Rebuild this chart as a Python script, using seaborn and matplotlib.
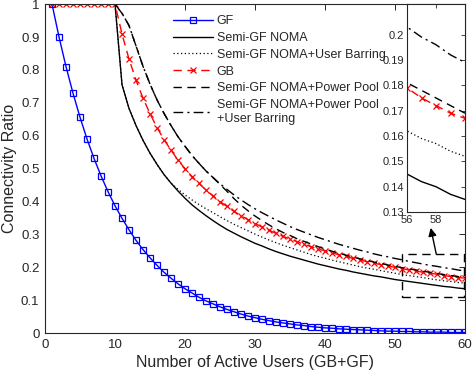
import numpy as np
import pandas as pd
import matplotlib
matplotlib.use("Agg")
import matplotlib.pyplot as plt
import matplotlib.patches as patches
import seaborn as sns

sns.set_style("white")
plt.rcParams['font.family'] = ['Liberation Sans', 'DejaVu Sans']

# number of active users
users = list(range(1, 61))

gf = [1.000, 0.900, 0.810, 0.729, 0.656, 0.590, 0.531, 0.478, 0.430, 0.387,
      0.349, 0.314, 0.282, 0.254, 0.229, 0.206, 0.185, 0.167, 0.150, 0.135,
      0.122, 0.109, 0.098, 0.089, 0.080, 0.072, 0.065, 0.058, 0.052, 0.047,
      0.042, 0.038, 0.034, 0.031, 0.028, 0.025, 0.023, 0.020, 0.018, 0.016,
      0.015, 0.013, 0.012, 0.011, 0.010, 0.009, 0.008, 0.007, 0.006, 0.006,
      0.005, 0.005, 0.004, 0.004, 0.003, 0.003, 0.003, 0.002, 0.002, 0.002]

semi_gf = [1, 1, 1, 1, 1, 1, 1, 1, 1, 1,
           0.755, 0.683, 0.631, 0.586, 0.547, 0.513, 0.482, 0.456, 0.432, 0.410,
           0.390, 0.373, 0.357, 0.342, 0.328, 0.315, 0.304, 0.293, 0.283, 0.273,
           0.265, 0.256, 0.248, 0.241, 0.234, 0.228, 0.222, 0.216, 0.210, 0.205,
           0.200, 0.195, 0.191, 0.186, 0.182, 0.178, 0.174, 0.171, 0.167, 0.163,
           0.160, 0.157, 0.154, 0.151, 0.148, 0.145, 0.142, 0.140, 0.137, 0.135]

semi_gf_ub = [1, 1, 1, 1, 1, 1, 1, 1, 1, 1,
              0.755, 0.683, 0.631, 0.586, 0.547, 0.513, 0.482, 0.456, 0.437, 0.420,
              0.405, 0.391, 0.378, 0.366, 0.354, 0.342, 0.331, 0.321, 0.311, 0.301,
              0.292, 0.283, 0.275, 0.267, 0.260, 0.253, 0.246, 0.239, 0.233, 0.228,
              0.222, 0.217, 0.212, 0.207, 0.202, 0.198, 0.194, 0.190, 0.186, 0.182,
              0.178, 0.175, 0.172, 0.169, 0.165, 0.162, 0.159, 0.157, 0.154, 0.152]

gb = [1, 1, 1, 1, 1, 1, 1, 1, 1, 1,
      0.909, 0.833, 0.769, 0.714, 0.667, 0.625, 0.588, 0.556, 0.526, 0.500,
      0.476, 0.455, 0.435, 0.417, 0.400, 0.385, 0.370, 0.357, 0.345, 0.333,
      0.323, 0.313, 0.303, 0.294, 0.286, 0.278, 0.270, 0.263, 0.256, 0.250,
      0.244, 0.238, 0.233, 0.227, 0.222, 0.217, 0.213, 0.208, 0.204, 0.200,
      0.196, 0.192, 0.189, 0.185, 0.182, 0.179, 0.175, 0.172, 0.169, 0.167]

semi_gf_pp = [1, 1, 1, 1, 1, 1, 1, 1, 1, 1,
              0.972, 0.935, 0.873, 0.811, 0.757, 0.709, 0.668, 0.631, 0.597, 0.568,
              0.540, 0.516, 0.493, 0.473, 0.452, 0.431, 0.409, 0.389, 0.372, 0.356,
              0.342, 0.329, 0.317, 0.306, 0.297, 0.287, 0.279, 0.271, 0.263, 0.256,
              0.249, 0.243, 0.237, 0.231, 0.226, 0.221, 0.216, 0.212, 0.207, 0.203,
              0.199, 0.195, 0.192, 0.188, 0.185, 0.181, 0.178, 0.175, 0.172, 0.169]

semi_gf_pp_ub = [1, 1, 1, 1, 1, 1, 1, 1, 1, 1,
                 0.972, 0.935, 0.873, 0.811, 0.757, 0.709, 0.668, 0.631, 0.597, 0.568,
                 0.540, 0.516, 0.493, 0.473, 0.454, 0.437, 0.420, 0.405, 0.391, 0.378,
                 0.366, 0.355, 0.344, 0.334, 0.324, 0.315, 0.307, 0.299, 0.291, 0.284,
                 0.277, 0.270, 0.264, 0.258, 0.252, 0.247, 0.241, 0.236, 0.232, 0.227,
                 0.223, 0.218, 0.214, 0.210, 0.206, 0.203, 0.199, 0.196, 0.192, 0.189]

ytick_labels = ["0", "0.1", "0.2", "0.3", "0.4", "0.5", "0.6", "0.7", "0.8", "0.9", "1"]
inset_ytick_labels = ["0.13", "0.14", "0.15", "0.16", "0.17", "0.18", "0.19", "0.2"]

df = pd.DataFrame({"K": users, "GF": gf, "Semi": semi_gf, "SemiUB": semi_gf_ub,
                   "GB": gb, "SemiPP": semi_gf_pp, "SemiPPUB": semi_gf_pp_ub})

DASH = (0, (6, 4))
DOT = (0, (1, 2))
DASHDOT = (0, (7, 3, 1.5, 3))

series = [
    ("GF", "GF", dict(color="blue", marker="s", markersize=4.5, markerfacecolor="none",
                      markeredgecolor="blue", markeredgewidth=0.9, linestyle="-", lw=1)),
    ("Semi", "Semi-GF NOMA", dict(color="black", linestyle="-", lw=1)),
    ("SemiUB", "Semi-GF NOMA+User Barring", dict(color="black", linestyle=DOT, lw=0.9)),
    ("GB", "GB", dict(color="red", marker="x", markersize=5, markeredgewidth=0.9,
                      markeredgecolor="red", linestyle=DASH, lw=1)),
    ("SemiPP", "Semi-GF NOMA+Power Pool", dict(color="black", linestyle=DASH, lw=1)),
    ("SemiPPUB", "Semi-GF NOMA+Power Pool\n+User Barring",
     dict(color="black", linestyle=DASHDOT, lw=1)),
]

fig = plt.figure(figsize=(4.74, 3.79), dpi=100)
ax = fig.add_axes([0.095, 0.121, 0.886, 0.868])

for col, lab, kw in series:
    sns.lineplot(data=df, x="K", y=col, ax=ax, label=lab, **kw)

ax.set_xlim(0, 60)
ax.set_ylim(0, 1)
ax.set_xticks(range(0, 61, 10))
ax.set_yticks(np.arange(0, 1.01, 0.1))
ax.set_yticklabels(ytick_labels)
ax.tick_params(direction="in", top=True, right=True, length=4, width=0.7,
               labelsize=9.5, labelcolor="#262626", pad=4)
for s in ax.spines.values():
    s.set_color("#262626")
    s.set_linewidth(0.8)
ax.set_xlabel("Number of Active Users (GB+GF)", fontsize=11.5, color="#262626", labelpad=3)
ax.set_ylabel("Connectivity Ratio", fontsize=11.5, color="#262626", labelpad=3)

ax.legend(loc="upper left", bbox_to_anchor=(0.29, 0.985), frameon=False, fontsize=9,
          borderpad=0, labelspacing=0.38, handlelength=3.2, handletextpad=0.3)

# zoom box + arrow
ax.add_patch(patches.Rectangle((51, 0.11), 8.8, 0.13, fill=False, ec="black",
                               lw=1, linestyle=DASH))
ax.annotate("", xy=(55.1, 0.32), xytext=(55.9, 0.24),
            arrowprops=dict(arrowstyle="-|>", color="black", lw=1,
                            shrinkA=0, shrinkB=0, mutation_scale=12))

# inset
axin = ax.inset_axes([0.862, 0.368, 0.138, 0.632])
for col, lab, kw in series[1:]:
    sns.lineplot(data=df, x="K", y=col, ax=axin, legend=False, **kw)
axin.set_xlim(56, 60)
axin.set_ylim(0.13, 0.212)
axin.set_xticks([56, 58, 60])
axin.set_xticklabels(["56", "58", ""])
axin.set_yticks(np.arange(0.13, 0.201, 0.01))
axin.set_yticklabels(inset_ytick_labels)
axin.set_xlabel("")
axin.set_ylabel("")
axin.tick_params(direction="in", top=True, right=True, length=3, width=0.6,
                 labelsize=8, labelcolor="#262626", pad=2)
for s in axin.spines.values():
    s.set_color("#262626")
    s.set_linewidth(0.8)

fig.savefig("out.png", dpi=100)
